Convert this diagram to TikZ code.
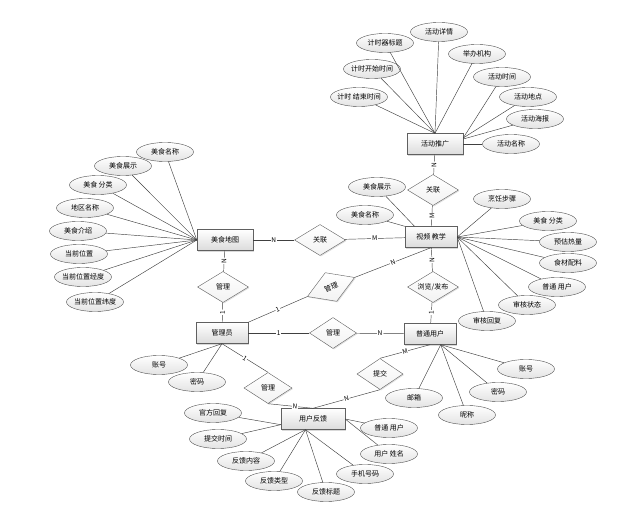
\documentclass[tikz,border=0pt]{standalone}
\usepackage{fontspec}
\newfontfamily\cjk{Noto Sans CJK SC}
\usetikzlibrary{shapes.geometric}
\usetikzlibrary{shadows}

\begin{document}
\begin{tikzpicture}[x=1pt, y=-1pt,
    font=\cjk\fontsize{7}{8}\selectfont,
    entity/.style={draw=gray!75!black, rectangle, top color=white,
                   bottom color=gray!28, minimum width=52pt, minimum height=21pt,
                   inner sep=1pt, drop shadow={opacity=0.3, shadow xshift=1.2pt,
                   shadow yshift=-1.2pt}},
    attr/.style={draw=black!70, ellipse, top color=white, bottom color=gray!22,
                 minimum width=57pt, minimum height=19pt, inner xsep=-3pt,
                 inner ysep=0pt},
    rel/.style={draw=gray!75!black, diamond, top color=white, bottom color=gray!10,
                aspect=1.65, minimum width=51pt, minimum height=31pt, inner sep=0pt,
                drop shadow={opacity=0.25, shadow xshift=1pt, shadow yshift=-1pt}},
    lab/.style={fill=white, inner sep=0.6pt, font=\cjk\fontsize{6.5}{7}\selectfont},
    every edge/.style={draw=black!75, line width=0.45pt}]
 \useasboundingbox (0,0) rectangle (624,518);

 % attributes of huodong
 \node[attr] (jsqbt) at (385,43) {计时器标题};
 \node[attr] (hdxq) at (439,32) {活动详情};
 \node[attr] (jbjg) at (477,54) {举办机构};
 \node[attr] (jsks) at (372,69) {计时开始时间};
 \node[attr] (hdsj) at (502,77) {活动时间};
 \node[attr] (jsjs) at (359,97) {计时\kern1.5pt 结束时间};
 \node[attr] (hddd) at (528,97) {活动地点};
 \node[attr] (hdhb) at (535,119) {活动海报};
 \node[attr] (hdmc) at (511,144) {活动名称};

 % attributes of meishi
 \node[attr] (msmc) at (165,152) {美食名称};
 \node[attr] (mszs) at (123,166) {美食展示};
 \node[attr] (msfl) at (98,185) {美食\kern1.5pt 分类};
 \node[attr] (dqmc) at (85,208) {地区名称};
 \node[attr] (msjs) at (78,231) {美食介绍};
 \node[attr] (dqwz) at (79,254) {当前位置};
 \node[attr] (wzjd) at (83,277) {当前位置经度};
 \node[attr] (wzwd) at (95,302) {当前位置纬度};

 % attributes of shipin
 \node[attr] (spzs) at (377,187) {美食展示};
 \node[attr] (spmc) at (365,215) {美食名称};
 \node[attr] (prbz) at (502,199) {烹饪步骤};
 \node[attr] (spfl) at (548,221) {美食\kern1.5pt 分类};
 \node[attr] (ygrl) at (568,242) {预估热量};
 \node[attr] (scpl) at (568,263) {食材配料};
 \node[attr] (spyh) at (557,287) {普通\kern1.5pt 用户};
 \node[attr] (shzt) at (527,305) {审核状态};
 \node[attr] (shhf) at (487,321) {审核回复};

 % attributes of admin and putong
 \node[attr] (glzh) at (159,365) {账号};
 \node[attr] (glmm) at (197,382) {密码};
 \node[attr] (ptzh) at (526,369) {账号};
 \node[attr] (ptmm) at (498,392) {密码};
 \node[attr] (ptnc) at (467,415) {昵称};
 \node[attr] (ptyx) at (414,398) {邮箱};

 % attributes of fankui
 \node[attr] (gfhf) at (213,413) {官方回复};
 \node[attr] (tjsj) at (218,439) {提交时间};
 \node[attr] (fknr) at (246,461) {反馈内容};
 \node[attr] (fklx) at (274,481) {反馈类型};
 \node[attr] (fkbt) at (326,492) {反馈标题};
 \node[attr] (sjhm) at (365,474) {手机号码};
 \node[attr] (yhxm) at (389,454) {用户\kern1.5pt 姓名};
 \node[attr] (fkyh) at (389,428) {普通\kern1.5pt 用户};

 % entities
 \node[entity, minimum width=56pt] (huodong) at (435,144) {活动推广};
 \node[entity, minimum width=56pt] (meishi) at (225,240) {美食地图};
 \node[entity] (shipin) at (431,237) {视频\kern1.5pt 教学};
 \node[entity] (admin) at (222,333) {管理员};
 \node[entity] (putong) at (430,334) {普通用户};
 \node[entity, minimum width=64pt] (fankui) at (313,419) {用户反馈};

 % relations
 \node[rel] (guanlian1) at (433,190) {关联};
 \node[rel] (guanlian2) at (320,240) {关联};
 \node[rel] (guanli1) at (223,287) {管理};
 \node[rel, rotate=22] (guanli2) at (331,287) {管理};
 \node[rel] (liulan) at (433,287) {浏览/发布};
 \node[rel, minimum width=47pt] (guanli3) at (333,333) {管理};
 \node[rel, minimum width=48pt] (guanli4) at (268,388) {管理};
 \node[rel, minimum width=46pt] (tijiao) at (380,374) {提交};

 \path (jsqbt) edge (huodong.north)
       (hdxq)  edge (huodong.north)
       (jbjg)  edge (huodong.north)
       (jsks)  edge (huodong.north)
       (jsjs)  edge (huodong.north)
       (hdsj)  edge (huodong.12)
       (hddd)  edge (huodong.12)
       (hdhb)  edge (huodong.10)
       (hdmc)  edge (huodong.east);

 \path (msmc) edge (meishi.west)
       (mszs) edge (meishi.west)
       (msfl) edge (meishi.west)
       (dqmc) edge (meishi.west)
       (msjs) edge (meishi.west)
       (dqwz) edge (meishi.west)
       (wzjd) edge (meishi.west)
       (wzwd) edge (meishi.west);

 \path (spzs) edge (shipin.147)
       (spmc) edge (shipin.north west)
       (prbz) edge (shipin.east)
       (spfl) edge (shipin.east)
       (ygrl) edge (shipin.east)
       (scpl) edge (shipin.east)
       (spyh) edge (shipin.east)
       (shzt) edge (shipin.east)
       (shhf) edge (shipin.east);

 \path (glzh) edge (admin.south)
       (glmm) edge (admin.south)
       (ptzh) edge (putong.-45)
       (ptmm) edge (putong.-45)
       (ptnc) edge (putong.-45)
       (ptyx) edge (putong.-45);

 \path (gfhf) edge (fankui.190)
       (tjsj) edge (fankui.190)
       (fknr) edge (fankui.-125)
       (fklx) edge (fankui.-125)
       (fkbt) edge (fankui.-125)
       (sjhm) edge (fankui.-125)
       (yhxm) edge (fankui.east)
       (fkyh) edge (fankui.east);

 % relationships
 \path (huodong)   edge node[lab, rotate=90] {N} (guanlian1)
       (guanlian1) edge node[lab, rotate=90] {M} (shipin)
       (meishi)    edge node[lab] {N} (guanlian2)
       (guanlian2) edge node[lab] {M} (shipin)
       (meishi)    edge node[lab, rotate=90] {N} (guanli1)
       (guanli1)   edge node[lab, rotate=90] {1} (admin)
       (admin.north east) edge node[lab, sloped] {1} (guanli2.west)
       (guanli2.east) edge node[lab, sloped] {N} (shipin.south)
       (admin)     edge node[lab] {1} (guanli3)
       (guanli3)   edge node[lab] {N} (putong)
       (shipin)    edge node[lab, rotate=90] {N} (liulan)
       (liulan)    edge node[lab, rotate=90] {1} (putong)
       (admin.south) edge node[lab, sloped] {1} (guanli4.north)
       (guanli4.south) edge node[lab, sloped, pos=0.6] {N} (fankui.north)
       (putong.south) edge node[lab, sloped] {M} (tijiao.north)
       (tijiao.south) edge node[lab, sloped] {N} (fankui.north);
\end{tikzpicture}
\end{document}
